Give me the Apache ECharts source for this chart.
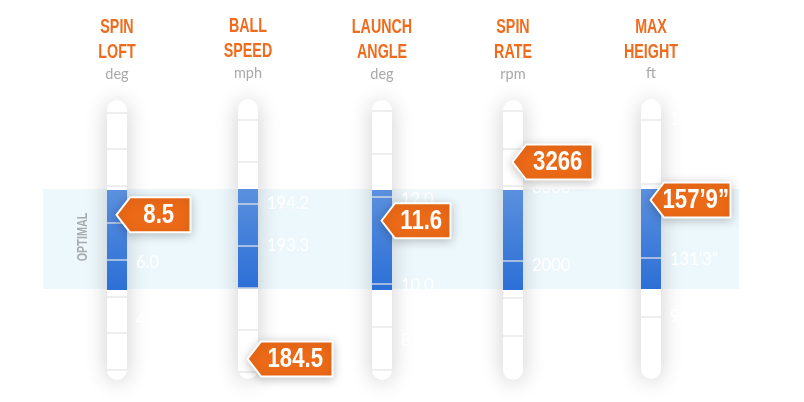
<!DOCTYPE html>
<html><head><meta charset="utf-8">
<style>html,body{margin:0;padding:0;background:#fff}#c{width:804px;height:402px}</style>
<script src="https://cdn.jsdelivr.net/npm/echarts@6/dist/echarts.min.js"></script>
</head><body><div id="c"></div>
<script>
// ---- data ----
const titles = [['SPIN','LOFT'],['BALL','SPEED'],['LAUNCH','ANGLE'],['SPIN','RATE'],['MAX','HEIGHT']];
const units = ['deg','mph','deg','rpm','ft'];
const axisMin = [-0.53, 190.45, 7.78, 413, 75.95];
const axisMax = [14.69, 196.45, 14.25, 4147, 203.9];
const optimalLow = [4.36, 192.39, 9.86, 1613, 117.1];
const optimalHigh = [9.8, 194.52, 12.17, 2947, 162.8];
const markerText = ['8.5','184.5','11.6','3266','157’9”'];
const markerValue = [8.45, 190.88, 11.46, 3320, 157.75];
const ticks = [
  [14,12,10,8,6,4,2,0],
  [196,195.1,194.2,193.3,192.4,191.5,190.6],
  [14,13,12,10,9,8],
  [4000,3500,3000,2000,1500,1000],
  [194.3,165,131.25,104.3]
];
const labelValues = [
  [5.85,2.7],
  [194.2,193.3],
  [11.95,9.95,8.68],
  [2980,1933],
  [194.3,130.4,104.3]
];
const labelTexts = [
  ['6.0','4.0'],
  ['194.2','193.3'],
  ['12.0','10.0','8.0'],
  ['3000','2000'],
  ['196’10”','131’3”','98’5”']
];
// ---- layout ----
const trackLeft = [107,238,372,503,641];
const trackTop = [100,99,100,100,99];
const markerWidth = [74,85,69,80,80];
const TITLE = '"Liberation Sans",sans-serif';

const grids=[],xAxes=[],yAxes=[],series=[],graphics=[];
graphics.push({type:'rect',z:-10,silent:true,shape:{x:43,y:189,width:696,height:100},style:{fill:'#edf8fd'}});
graphics.push({type:'text',x:83,y:237,rotation:Math.PI/2,scaleX:.72,silent:true,z:-5,
  style:{text:'OPTIMAL',font:'bold 15px '+TITLE,fill:'#a8abad',align:'center',verticalAlign:'middle'}});

titles.forEach((t,i)=>{
  const cx=trackLeft[i]+10, top=trackTop[i];
  const off = i===4 ? 1 : 0;
  [[t[0],-73+off],[t[1],-48+off]].forEach(([s,dy])=>{
    graphics.push({type:'text',x:cx,y:top+dy,scaleX:.68,silent:true,
      style:{text:s,font:'bold 21px '+TITLE,fill:'#ef6c1f',align:'center',verticalAlign:'middle'}});
  });
  graphics.push({type:'text',x:cx,y:top-26,silent:true,
    style:{text:units[i],font:'14.5px Lato',fill:'#a9a9a9',align:'center',verticalAlign:'middle'}});

  grids.push({left:trackLeft[i],top:top,width:20,height:280,show:false});
  xAxes.push({gridIndex:i,type:'value',min:0,max:1,show:false});
  yAxes.push({gridIndex:i,type:'value',position:'right',min:axisMin[i],max:axisMax[i],z:3,
    axisLine:{show:false},splitLine:{show:false},axisTick:{show:false},
    axisLabel:{show:true,inside:false,margin:9,customValues:labelValues[i],color:'#fff',
      fontFamily:'Lato',fontSize:16.5,
      formatter:v=>{const k=labelValues[i].indexOf(v);return k>=0?labelTexts[i][k]:'';}}
  });
  const rectBetween=(params,api)=>{
    const g=params.coordSys;
    const a=api.coord([0,api.value(0)]),b=api.coord([0,api.value(1)]);
    return {x:g.x,y:Math.min(a[1],b[1]),width:g.width,height:Math.abs(a[1]-b[1])};
  };
  series.push({type:'custom',xAxisIndex:i,yAxisIndex:i,z:1,silent:true,animation:false,clip:false,
    data:[[axisMin[i],axisMax[i]]],encode:{x:[],y:[0,1]},
    renderItem:(p,api)=>{const r=rectBetween(p,api);r.r=10;
      return {type:'rect',shape:r,style:{fill:'#fff',shadowBlur:22,shadowColor:'rgba(0,0,0,.2)',shadowOffsetX:0,shadowOffsetY:2}};}
  });
  series.push({type:'custom',xAxisIndex:i,yAxisIndex:i,z:2,silent:true,animation:false,clip:false,
    data:[[optimalLow[i],optimalHigh[i]]],encode:{x:[],y:[0,1]},
    renderItem:(p,api)=>{const r=rectBetween(p,api);
      return {type:'rect',shape:r,style:{fill:new echarts.graphic.LinearGradient(0,0,0,1,[{offset:0,color:'#5a90de'},{offset:1,color:'#2c6fd6'}])}};}
  });
  series.push({type:'custom',xAxisIndex:i,yAxisIndex:i,z:3,silent:true,animation:false,clip:false,
    data:ticks[i].map(v=>[v]),encode:{x:[],y:[0]},
    renderItem:(p,api)=>{
      const g=p.coordSys, y=Math.round(api.coord([0,api.value(0)])[1]);
      return {type:'line',shape:{x1:g.x,y1:y,x2:g.x+g.width,y2:y},style:{stroke:'rgba(228,228,228,.85)',lineWidth:1.5}};
    }
  });
  series.push({type:'custom',xAxisIndex:i,yAxisIndex:i,z:10,silent:true,animation:false,clip:false,
    data:[[markerValue[i]]],encode:{x:[],y:[0]},
    renderItem:(p,api)=>{
      const g=p.coordSys, y=api.coord([0,api.value(0)])[1];
      const tip=g.x+9.5, sh=tip+13.5, right=tip+markerWidth[i], h=17.5;
      return {type:'group',children:[
        {type:'polygon',shape:{points:[[tip,y],[sh,y-h],[right,y-h],[right,y+h],[sh,y+h]]},
         style:{fill:'#ec6a17',stroke:'#fff',lineWidth:2,lineJoin:'round',shadowBlur:10,shadowColor:'rgba(0,0,0,.22)',shadowOffsetY:2}},
        {type:'text',x:(sh+right)/2-1.5,y:y+.5,scaleX:.82,style:{text:markerText[i],font:'bold 27px '+TITLE,fill:'#fff',align:'center',verticalAlign:'middle'}}
      ]};
    }
  });
});

const chart=echarts.init(document.getElementById('c'),null,{renderer:'canvas',width:804,height:402});
chart.setOption({animation:false,backgroundColor:'#fff',grid:grids,xAxis:xAxes,yAxis:yAxes,series:series,graphic:{elements:graphics}});
</script></body></html>
